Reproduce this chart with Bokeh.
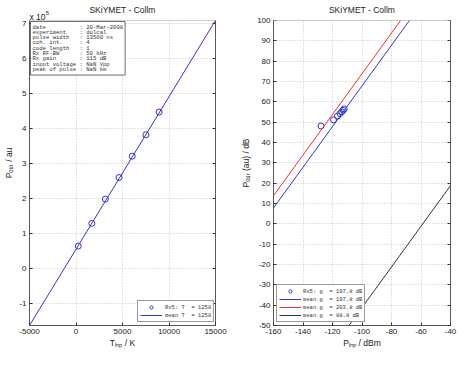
from bokeh.plotting import figure
from bokeh.models import (Label, Legend, LegendItem, FixedTicker, Range1d, LinearAxis,
                          BoxAnnotation)
from bokeh.layouts import row
from bokeh.embed import file_html
from bokeh.resources import INLINE

# ---------------- data ----------------
t_inp = [240, 1700, 3160, 4630, 6050, 7520, 8940]                 # K
p_out = [65200, 130000, 199500, 261000, 322000, 383000, 448000]   # au
fit_t = [-5000, 15000]
fit_p = [-161600, 709600]
t_r = 1258

p_inp_dbm = [-127.8, -119.3, -116.6, -114.9, -113.8, -112.8, -112.1]
p_out_db = [48.1, 51.1, 53.0, 54.2, 55.1, 55.8, 56.5]
line_dbm = [-160, -40]
db_limits = [-50, 100]
gain_c = 197.8
gain_s = 203.8
gain_n = 88.8

x1_ticks = [-5000, 0, 5000, 10000, 15000]
x1_labels = ["-5000", "0", "5000", "10000", "15000"]
y1_ticks = [-100000, 0, 100000, 200000, 300000, 400000, 500000, 600000, 700000]
y1_labels = ["-1", "0", "1", "2", "3", "4", "5", "6", "7"]
x2_ticks = [-160, -140, -120, -100, -80, -60, -40]
x2_labels = ["-160", "-140", "-120", "-100", "-80", "-60", "-40"]
y2_ticks = [-50, -40, -30, -20, -10, 0, 10, 20, 30, 40, 50, 60, 70, 80, 90, 100]
y2_labels = ["-50", "-40", "-30", "-20", "-10", "0", "10", "20", "30", "40",
             "50", "60", "70", "80", "90", "100"]

info_keys = ["date", "experiment", "pulse width", "coh. int.", "code length",
             "Rx RF-BW", "Rx gain", "input voltage", "peak of pulse"]
info_vals = ["20-Mar-2008", "dolcal", "13500 ns", "4", "1", "50 kHz",
             "115 dB", "NaN Vpp", "NaN km"]

title_text = "SKiYMET - Collm"
x1_title = "T\u1d62\u2099\u209a / K"
y1_title = "P\u2092\u1d64\u209c / au"
x2_title = "P\u1d62\u2099\u209a / dBm"
y2_title = "P\u2092\u1d64\u209c (au) / dB"

# ---------------- style / layout ----------------
BLUE = "#3434d0"
RED = "#f03030"
DARK = "#333333"
NB = "\u00a0"
H = 350
MB_BOT = 24
FH = H - MB_BOT          # frame height (frame starts at the top of the canvas)
GAP = 20                 # room above the axes box for the title
BOX_H = FH - GAP
W1L, W1, W1R = 29, 186, 14
W2L, W2, W2R = 44, 177, 8
SANS = "Liberation Sans"
MONO = "Liberation Mono"


def make_fig(w, mbl, mbr, xlim, ylim, xt, xl, yt, yl, xtitle, ytitle, ystand):
    ybot, ytop = ylim
    y_end = ytop + (ytop - ybot) * GAP / BOX_H
    p = figure(width=w, height=H, x_range=Range1d(xlim[0], xlim[1]),
               y_range=Range1d(ybot, y_end), output_backend="svg",
               toolbar_location=None, min_border_left=mbl, min_border_right=mbr,
               min_border_top=0, min_border_bottom=MB_BOT)
    p.background_fill_color = "white"
    p.border_fill_color = "white"
    p.outline_line_color = None
    p.xaxis.ticker = FixedTicker(ticks=xt)
    p.yaxis.ticker = FixedTicker(ticks=yt)
    p.xgrid.ticker = FixedTicker(ticks=xt)
    p.ygrid.ticker = FixedTicker(ticks=yt)
    p.xaxis.major_label_overrides = {t: l for t, l in zip(xt, xl)}
    p.yaxis.major_label_overrides = {t: l for t, l in zip(yt, yl)}
    p.yaxis.bounds = (ybot, ytop)
    p.xaxis.axis_label = xtitle
    p.yaxis.axis_label = ytitle
    p.xaxis.axis_label_standoff = 1
    p.yaxis.axis_label_standoff = ystand
    rax = LinearAxis(ticker=FixedTicker(ticks=yt), bounds=(ybot, ytop),
                     major_label_overrides={t: "" for t in yt})
    p.add_layout(rax, "right")
    for ax in (p.xaxis[0], p.yaxis[0], rax):
        ax.major_tick_in = 3
        ax.major_tick_out = 0
        ax.minor_tick_in = 0
        ax.minor_tick_out = 0
        ax.axis_line_color = DARK
        ax.axis_line_width = 0.8
        ax.major_tick_line_color = DARK
        ax.major_label_text_font = SANS
        ax.major_label_text_font_size = "8px"
        ax.major_label_text_color = "#222222"
        ax.major_label_standoff = 3
        ax.axis_label_text_font = SANS
        ax.axis_label_text_font_size = "8.5px"
        ax.axis_label_text_font_style = "normal"
        ax.axis_label_text_color = "#222222"
    rax.major_label_standoff = 0
    p.grid.grid_line_color = "#c4c4c4"
    p.grid.grid_line_dash = "1 2"
    p.grid.grid_line_width = 1
    return p


def finish(p, w, ylim):
    ybot, ytop = ylim
    # blank band above the axes box, then the box itself and the title
    p.add_layout(BoxAnnotation(bottom=ytop, fill_color="white", fill_alpha=1.0,
                               line_alpha=0))
    p.add_layout(BoxAnnotation(bottom=ybot, top=ytop, fill_alpha=0,
                               line_color=DARK, line_width=0.8))
    p.add_layout(Label(x=w / 2, y=FH - 10.5, x_units="screen", y_units="screen",
                       text=title_text, text_font=SANS, text_font_size="8.5px",
                       text_color="#222222", text_align="center", text_baseline="middle"))


def add_legend(p, entries, lx, ly, glyph_w, standoff, subs, sub_idx):
    pad, ih, fs = 2, 8, 5.5
    leg = Legend(items=[LegendItem(label=l, renderers=[r]) for l, r in entries],
                 location=(lx, ly), padding=pad, spacing=0, margin=0,
                 glyph_width=glyph_w, glyph_height=ih, label_height=ih, label_width=10,
                 label_standoff=standoff, label_text_font=MONO,
                 label_text_font_size=f"{fs}px", label_text_color=DARK,
                 border_line_color=DARK, border_line_width=0.7,
                 background_fill_color="white", background_fill_alpha=1.0)
    p.add_layout(leg)
    n = len(entries)
    top = ly + 2 * pad + n * ih
    tx = lx + pad + glyph_w + standoff
    for i, s in enumerate(subs):
        cy = top - pad - i * ih - ih / 2
        p.add_layout(Label(x=tx + sub_idx * fs * 0.6 + 0.3, y=cy - 3.0, x_units="screen",
                           y_units="screen", text=s, text_font=MONO,
                           text_font_size="4.5px", text_color=DARK,
                           text_baseline="alphabetic"))


def gain_line(g):
    # P_out(dB) = P_inp(dBm) - 30 + g, kept inside the axes box
    x_end = min(line_dbm[1], db_limits[1] + 30 - g)
    xs = [line_dbm[0], x_end]
    return xs, [x - 30 + g for x in xs]


# ---------------- left figure ----------------
ylim1 = (min(fit_p), max(fit_p))
p1 = make_fig(W1L + W1 + W1R, W1L, W1R, (fit_t[0], fit_t[-1]), ylim1,
              x1_ticks, x1_labels, y1_ticks, y1_labels, x1_title, y1_title, 2)
r_line1 = p1.line(fit_t, fit_p, line_color=BLUE, line_width=1)
r_pts1 = p1.scatter(t_inp, p_out, marker="circle", size=6, fill_color=None,
                    line_color=BLUE, line_width=1)
finish(p1, W1, ylim1)

p1.add_layout(Label(x=0, y=FH - 17.5, x_units="screen", y_units="screen", text="x 10",
                    text_font=SANS, text_font_size="8.5px", text_color="#222222",
                    text_baseline="alphabetic"))
p1.add_layout(Label(x=16.3, y=FH - 13, x_units="screen", y_units="screen", text="5",
                    text_font=SANS, text_font_size="6px", text_color="#222222",
                    text_baseline="alphabetic"))

info = "\n".join(f"{k:<14}: {v}".replace(" ", NB) for k, v in zip(info_keys, info_vals))
p1.add_layout(Label(x=1, y=FH - GAP - 2, x_units="screen", y_units="screen", text=info,
                    text_font=MONO, text_font_size="5.6px", text_color=DARK,
                    text_align="left", text_baseline="top", text_line_height=0.76,
                    border_line_color=DARK, border_line_width=0.7,
                    background_fill_color="white", padding=2))

add_legend(p1, [(f"Rx5:{NB}T{NB}{NB}={NB}{t_r}", r_pts1),
                (f"mean{NB}T{NB}{NB}={NB}{t_r}", r_line1)],
           108, 3, 22, 3, ["r", "r"], 6)

# ---------------- right figure ----------------
ylim2 = (db_limits[0], db_limits[1])
p2 = make_fig(W2L + W2 + W2R, W2L, W2R, (line_dbm[0], line_dbm[-1]), ylim2,
              x2_ticks, x2_labels, y2_ticks, y2_labels, x2_title, y2_title, 3)
r_pts2 = p2.scatter(p_inp_dbm, p_out_db, marker="circle", size=6, fill_color=None,
                    line_color=BLUE, line_width=1)
xc, yc = gain_line(gain_c)
xs_, ys_ = gain_line(gain_s)
xn, yn = gain_line(gain_n)
r_c = p2.line(xc, yc, line_color=BLUE, line_width=1)
r_s = p2.line(xs_, ys_, line_color=RED, line_width=1)
r_n = p2.line(xn, yn, line_color=DARK, line_width=1)
finish(p2, W2, ylim2)

add_legend(p2, [(f"Rx5:{NB}g{NB}{NB}={NB}{gain_c}{NB}dB", r_pts2),
                (f"mean{NB}g{NB}{NB}={NB}{gain_c}{NB}dB", r_c),
                (f"mean{NB}g{NB}{NB}={NB}{gain_s}{NB}dB", r_s),
                (f"mean{NB}g{NB}{NB}={NB}{gain_n}{NB}dB", r_n)],
           3, 3, 22, 2, ["c", "c", "s", "n"], 6)

layout = row(p1, p2)
open("out.html", "w").write(file_html(layout, INLINE))
